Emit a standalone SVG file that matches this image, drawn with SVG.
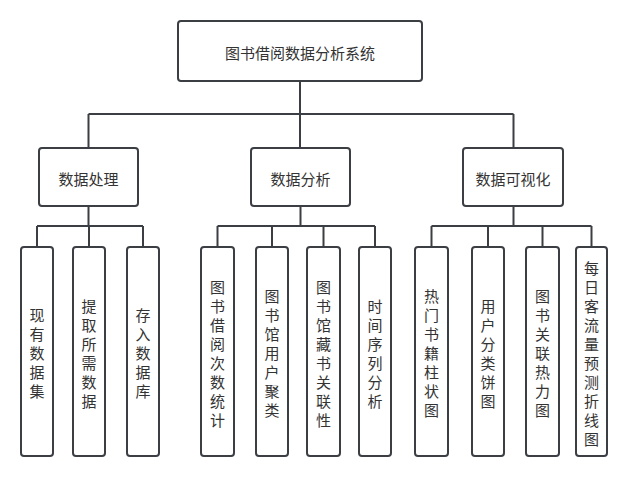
<svg xmlns="http://www.w3.org/2000/svg" width="628" height="477" viewBox="0 0 628 477">
<style>
.box{fill:#fff;stroke:#3b3e43;stroke-width:2}
.lbl{font-family:"Noto Sans CJK SC","Noto Sans",sans-serif;font-size:15px;fill:#333;text-anchor:middle;dominant-baseline:central}
.ln{stroke:#3b3e43;stroke-width:2;fill:none}
</style>
<rect width="628" height="477" fill="#fff"/>
<g id="connectors">
<path class="ln" d="M300 81V148M88.5 114H513.5M88.5 114V148M513.5 114V148"/>
<path class="ln" d="M88.5 206V226M37 226H143M37 226V247M89 226V247M143 226V247"/>
<path class="ln" d="M300.5 206V226M217.5 226H375M217.5 226V247M272 226V247M323.5 226V247M375 226V247"/>
<path class="ln" d="M513.5 206V226M431.5 226H591.5M431.5 226V247M488 226V247M542.5 226V247M591.5 226V247"/>
</g>
<g id="root"><rect class="box" x="178" y="21" width="244" height="60" rx="3"/><text class="lbl" x="300" y="52">图书借阅数据分析系统</text></g>
<g id="n1"><rect class="box" x="39" y="148" width="99" height="58" rx="3"/><text class="lbl" x="88.5" y="178">数据处理</text></g>
<g id="n2"><rect class="box" x="251" y="148" width="99" height="58" rx="3"/><text class="lbl" x="300.5" y="178">数据分析</text></g>
<g id="n3"><rect class="box" x="463" y="148" width="100" height="58" rx="3"/><text class="lbl" x="513" y="178">数据可视化</text></g>
<g id="l1"><rect class="box" x="21" y="247" width="32" height="209" rx="3"/><text class="lbl" x="37"><tspan x="37" y="314">现</tspan><tspan x="37" y="333">有</tspan><tspan x="37" y="352">数</tspan><tspan x="37" y="371">据</tspan><tspan x="37" y="390">集</tspan></text></g>
<g id="l2"><rect class="box" x="73" y="247" width="32" height="209" rx="3"/><text class="lbl" x="89"><tspan x="89" y="304.5">提</tspan><tspan x="89" y="323.5">取</tspan><tspan x="89" y="342.5">所</tspan><tspan x="89" y="361.5">需</tspan><tspan x="89" y="380.5">数</tspan><tspan x="89" y="399.5">据</tspan></text></g>
<g id="l3"><rect class="box" x="127" y="247" width="32" height="209" rx="3"/><text class="lbl" x="143"><tspan x="143" y="314">存</tspan><tspan x="143" y="333">入</tspan><tspan x="143" y="352">数</tspan><tspan x="143" y="371">据</tspan><tspan x="143" y="390">库</tspan></text></g>
<g id="l4"><rect class="box" x="201" y="247" width="33" height="209" rx="3"/><text class="lbl" x="217.5"><tspan x="217.5" y="285.5">图</tspan><tspan x="217.5" y="304.5">书</tspan><tspan x="217.5" y="323.5">借</tspan><tspan x="217.5" y="342.5">阅</tspan><tspan x="217.5" y="361.5">次</tspan><tspan x="217.5" y="380.5">数</tspan><tspan x="217.5" y="399.5">统</tspan><tspan x="217.5" y="418.5">计</tspan></text></g>
<g id="l5"><rect class="box" x="256" y="247" width="32" height="209" rx="3"/><text class="lbl" x="272"><tspan x="272" y="295">图</tspan><tspan x="272" y="314">书</tspan><tspan x="272" y="333">馆</tspan><tspan x="272" y="352">用</tspan><tspan x="272" y="371">户</tspan><tspan x="272" y="390">聚</tspan><tspan x="272" y="409">类</tspan></text></g>
<g id="l6"><rect class="box" x="307" y="247" width="33" height="209" rx="3"/><text class="lbl" x="323.5"><tspan x="323.5" y="285.5">图</tspan><tspan x="323.5" y="304.5">书</tspan><tspan x="323.5" y="323.5">馆</tspan><tspan x="323.5" y="342.5">藏</tspan><tspan x="323.5" y="361.5">书</tspan><tspan x="323.5" y="380.5">关</tspan><tspan x="323.5" y="399.5">联</tspan><tspan x="323.5" y="418.5">性</tspan></text></g>
<g id="l7"><rect class="box" x="359" y="247" width="32" height="209" rx="3"/><text class="lbl" x="375"><tspan x="375" y="304.5">时</tspan><tspan x="375" y="323.5">间</tspan><tspan x="375" y="342.5">序</tspan><tspan x="375" y="361.5">列</tspan><tspan x="375" y="380.5">分</tspan><tspan x="375" y="399.5">析</tspan></text></g>
<g id="l8"><rect class="box" x="415" y="247" width="33" height="209" rx="3"/><text class="lbl" x="431.5"><tspan x="431.5" y="295">热</tspan><tspan x="431.5" y="314">门</tspan><tspan x="431.5" y="333">书</tspan><tspan x="431.5" y="352">籍</tspan><tspan x="431.5" y="371">柱</tspan><tspan x="431.5" y="390">状</tspan><tspan x="431.5" y="409">图</tspan></text></g>
<g id="l9"><rect class="box" x="472" y="247" width="32" height="209" rx="3"/><text class="lbl" x="488"><tspan x="488" y="304.5">用</tspan><tspan x="488" y="323.5">户</tspan><tspan x="488" y="342.5">分</tspan><tspan x="488" y="361.5">类</tspan><tspan x="488" y="380.5">饼</tspan><tspan x="488" y="399.5">图</tspan></text></g>
<g id="l10"><rect class="box" x="526" y="247" width="33" height="209" rx="3"/><text class="lbl" x="542.5"><tspan x="542.5" y="295">图</tspan><tspan x="542.5" y="314">书</tspan><tspan x="542.5" y="333">关</tspan><tspan x="542.5" y="352">联</tspan><tspan x="542.5" y="371">热</tspan><tspan x="542.5" y="390">力</tspan><tspan x="542.5" y="409">图</tspan></text></g>
<g id="l11"><rect class="box" x="576" y="247" width="31" height="209" rx="3"/><text class="lbl" x="591.5"><tspan x="591.5" y="266.5">每</tspan><tspan x="591.5" y="285.5">日</tspan><tspan x="591.5" y="304.5">客</tspan><tspan x="591.5" y="323.5">流</tspan><tspan x="591.5" y="342.5">量</tspan><tspan x="591.5" y="361.5">预</tspan><tspan x="591.5" y="380.5">测</tspan><tspan x="591.5" y="399.5">折</tspan><tspan x="591.5" y="418.5">线</tspan><tspan x="591.5" y="437.5">图</tspan></text></g>
</svg>
